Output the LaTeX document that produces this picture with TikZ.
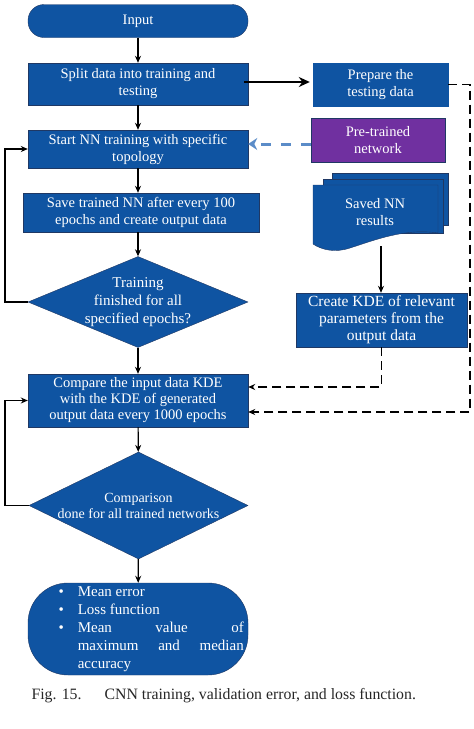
\documentclass[tikz,border=0pt]{standalone}
\usepackage{fontspec}
\setmainfont{Liberation Serif}
\usepackage{xcolor}
\usepackage{tikz}
\usetikzlibrary{positioning, calc, shapes.geometric, arrows.meta}
\definecolor{boxblue}{RGB}{15,84,162}
\definecolor{boxedge}{RGB}{31,56,100}
\definecolor{netpurple}{RGB}{112,48,160}
\definecolor{dashblue}{RGB}{91,140,200}
\tikzset{
  box/.style = {rectangle, draw=boxedge, fill=boxblue, text=white, inner sep=2pt,
                align=center, font=\fontsize{14.5}{17}\selectfont},
  term/.style = {box, rounded corners=16pt},
  dia/.style = {diamond, draw=boxedge, fill=boxblue, inner sep=0pt, aspect=2.2},
  txt/.style = {text=white, align=center, font=\fontsize{14.5}{17}\selectfont},
  page/.style = {draw=boxedge, fill=boxblue},
  flow/.style = {-{Stealth[length=7pt,width=6pt]}, line width=1.2pt},
  back/.style = {flow, dashed, dash pattern=on 9pt off 5pt, line width=1.4pt}
}

\begin{document}
\begin{tikzpicture}[x=1pt, y=-1pt]
    \useasboundingbox (0,0) rectangle (474,729);

    % main column
    \node[term, minimum width=220pt, minimum height=33pt] (input) at (138,21) {Input};
    \node[box, minimum width=220pt, minimum height=42pt] (split) at (138,84) {Split data into training and\\testing};
    \node[box, minimum width=220pt, minimum height=38pt] (start) at (138,149) {Start NN training with specific\\topology};
    \node[box, minimum width=236pt, minimum height=39pt] (save) at (141,212.5) {Save trained NN after every 100\\epochs and create output data};
    \node[dia, minimum width=220pt, minimum height=91pt] (train) at (138,302) {};
    \node[txt, font=\fontsize{15}{18}\selectfont] (traintxt) at (train) {Training\\finished for all\\specified epochs?};
    \node[box, minimum width=220pt, minimum height=53pt, font=\fontsize{14.5}{16}\selectfont] (compare) at (138,400.5)
        {Compare the input data KDE\\with the KDE of generated\\output data every 1000 epochs};
    \node[dia, minimum width=219pt, minimum height=107pt] (done) at (138.5,505.5) {};
    \node[txt, font=\fontsize{14}{16}\selectfont] (donetxt) at (done) {Comparison\\done for all trained networks};
    \node[term, rounded corners=40pt, minimum width=220pt, minimum height=92pt] (result) at (138,629) {};
    \node[txt, anchor=west, font=\fontsize{15}{18}\selectfont] (resulttxt) at (55,629)
        {\begin{tabular}{@{}c@{\hspace{14pt}}p{166pt}@{}}
          \textbullet & Mean error\\
          \textbullet & Loss function\\
          \textbullet & Mean value of\linebreak maximum and median\linebreak accuracy
        \end{tabular}};

    % right column
    \node[box, draw=boxblue, minimum width=135pt, minimum height=43pt] (prep) at (380.5,84.5) {Prepare the\\testing data};
    \node[box, fill=netpurple, draw=boxedge, minimum width=134pt, minimum height=44pt] (pretrain) at (378,140) {Pre-trained\\network};
    \draw[page] (332,173) rectangle (448,225);
    \draw[page] (323,179) rectangle (443,233);
    \draw[page] (313,185) -- (438,185) -- (438,233)
        .. controls (405,228) and (375,240) .. (350,248)
        .. controls (335,253) and (322,250) .. (313,244) -- cycle;
    \node[txt] (saved) at (375,212) {Saved NN\\results};
    \coordinate (savedbot) at (381,246);
    \node[box, minimum width=171pt, minimum height=54pt, font=\fontsize{15.5}{17}\selectfont] (kde) at (381.5,320) {Create KDE of relevant\\parameters from the\\output data};

    % connectors
    \coordinate (loopx) at (5,0);
    \coordinate (rightx) at (470,0);
    \draw[flow] (input) -- (split);
    \draw[flow] (split) -- (start);
    \draw[flow] (start) -- (start |- save.north);
    \draw[flow] (save.south -| train) -- (train.north);
    \draw[flow] (train) -- (compare);
    \draw[flow] (compare) -- (done);
    \draw[flow] (done) -- (result);
    \draw[-{Stealth[length=11pt,width=10pt]}, line width=2.6pt] ($(split.east)+(-4,-2)$) -- ($(prep.west)+(-3,-2.5)$);
    \draw[-{Stealth[length=9pt,width=12pt]}, line width=3pt, dashblue, dash pattern=on 10pt off 10pt] (pretrain.west |- 0,144) -- (start.east |- 0,144);
    \draw[flow] (train.west) -- (train.west -| loopx) |- (start.west);
    \draw[flow] (done.west) -- (done.west -| loopx) |- (compare.west);
    \draw[flow] (savedbot) -- (savedbot |- kde.north);
    \draw[back] (kde.south) |- ($(compare.east)+(0,-13.5)$);
    \draw[back] (prep.east) -- (prep.east -| rightx) |- ($(compare.east)+(0,11.5)$);

    % caption
    \node[anchor=west, font=\fontsize{15.8}{18}\selectfont, text=black!85] (caption) at (28,696)
        {Fig. 15.\hspace{23pt}CNN training, validation error, and loss function.};
\end{tikzpicture}
\end{document}
